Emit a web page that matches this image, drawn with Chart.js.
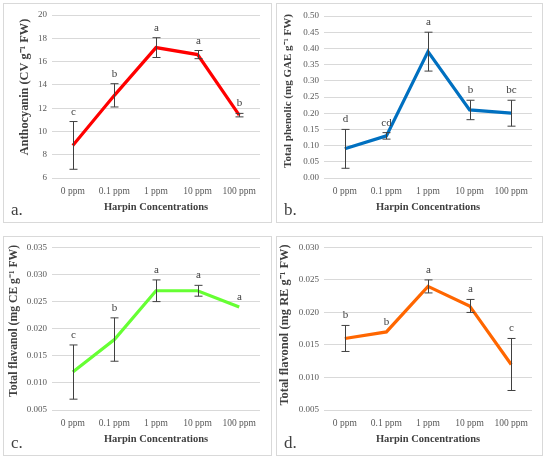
<!DOCTYPE html>
<html><head><meta charset="utf-8">
<script src="https://cdn.jsdelivr.net/npm/chart.js@4"></script>
<style>
body{margin:0;background:#fff;width:550px;height:461px;position:relative;overflow:hidden;font-family:"Liberation Serif",serif}
.panel{position:absolute;box-sizing:border-box;border:1px solid #d9d9d9;background:#fff}
.panel canvas{position:absolute;left:0;top:0}
.tag{position:absolute;left:7px;bottom:4px;font-size:17px;line-height:1;color:#404040;font-family:"Liberation Serif",serif}
</style></head>
<body>
<div class="panel" style="left:3px;top:3px;width:269px;height:220px"><canvas id="ca" width="267" height="218"></canvas><div class="tag">a.</div></div>
<div class="panel" style="left:276px;top:3px;width:267px;height:220px"><canvas id="cb" width="265" height="218"></canvas><div class="tag">b.</div></div>
<div class="panel" style="left:3px;top:236px;width:269px;height:220px"><canvas id="cc" width="267" height="218"></canvas><div class="tag">c.</div></div>
<div class="panel" style="left:276px;top:236px;width:267px;height:220px"><canvas id="cd" width="265" height="218"></canvas><div class="tag">d.</div></div>
<script>
const categories = ['0 ppm', '0.1 ppm', '1 ppm', '10 ppm', '100 ppm'];

const anthocyanin = [8.8, 13.1, 17.2, 16.6, 11.4];
const anthocyaninErr = [2.05, 1.0, 0.85, 0.35, 0.15];
const anthocyaninLetters = ['c', 'b', 'a', 'a', 'b'];
const anthocyaninTicks = [6, 8, 10, 12, 14, 16, 18, 20];

const phenolic = [0.09, 0.13, 0.39, 0.21, 0.20];
const phenolicErr = [0.06, 0.01, 0.06, 0.03, 0.04];
const phenolicLetters = ['d', 'cd', 'a', 'b', 'bc'];
const phenolicTicks = [0, 0.05, 0.10, 0.15, 0.20, 0.25, 0.30, 0.35, 0.40, 0.45, 0.50];

const flavanol = [0.012, 0.018, 0.027, 0.027, 0.024];
const flavanolErr = [0.005, 0.004, 0.002, 0.001, 0];
const flavanolLetters = ['c', 'b', 'a', 'a', 'a'];
const flavanolTicks = [0.005, 0.010, 0.015, 0.020, 0.025, 0.030, 0.035];

const flavonol = [0.016, 0.017, 0.024, 0.021, 0.012];
const flavonolErr = [0.002, 0, 0.001, 0.001, 0.004];
const flavonolLetters = ['b', 'b', 'a', 'a', 'c'];
const flavonolTicks = [0.005, 0.010, 0.015, 0.020, 0.025, 0.030];

Chart.defaults.font.family = "'Liberation Serif', serif";
Chart.defaults.animation = false;

const errorBars = {
  id: 'errorBars',
  afterDatasetsDraw(chart, args, opts) {
    const ctx = chart.ctx, x = chart.scales.x, y = chart.scales.y;
    const data = chart.data.datasets[0].data;
    ctx.save();
    ctx.strokeStyle = '#404040';
    ctx.lineWidth = 1;
    ctx.fillStyle = '#404040';
    ctx.font = "11px 'Liberation Serif', serif";
    ctx.textAlign = 'center';
    ctx.textBaseline = 'alphabetic';
    data.forEach((v, i) => {
      const e = opts.err[i];
      const px = Math.round(x.getPixelForValue(i)) + 0.5;
      const top = y.getPixelForValue(v + e);
      const bot = y.getPixelForValue(v - e);
      if (e > 0) {
        ctx.beginPath();
        ctx.moveTo(px, top); ctx.lineTo(px, bot);
        ctx.moveTo(px - 4, top); ctx.lineTo(px + 4, top);
        ctx.moveTo(px - 4, bot); ctx.lineTo(px + 4, bot);
        ctx.stroke();
      }
      ctx.fillText(opts.letters[i], px, top - 7);
    });
    ctx.restore();
  }
};

const yAxisTitle = {
  id: 'yAxisTitle',
  afterDraw(chart, args, opts) {
    const ctx = chart.ctx;
    ctx.save();
    ctx.translate(opts.cx, opts.cy);
    ctx.rotate(-Math.PI / 2);
    ctx.fillStyle = '#404040';
    ctx.font = "bold " + opts.size + "px 'Liberation Serif', serif";
    ctx.textAlign = 'center';
    ctx.textBaseline = 'middle';
    ctx.fillText(opts.text, 0, 0);
    ctx.restore();
  }
};

function makeChart(id, values, err, letters, ticks, decimals, color, yTitle, L) {
  new Chart(document.getElementById(id), {
    type: 'line',
    data: {
      labels: categories,
      datasets: [{
        data: values,
        borderColor: color,
        borderWidth: 3.2,
        pointRadius: 0,
        tension: 0,
        fill: false
      }]
    },
    options: {
      responsive: false,
      layout: { padding: { left: 0, right: L.right, top: L.top, bottom: 4 } },
      plugins: {
        legend: { display: false },
        tooltip: { enabled: false },
        errorBars: { err: err, letters: letters },
        yAxisTitle: { text: yTitle, size: L.ySize, cx: L.cx, cy: L.cy }
      },
      scales: {
        x: {
          type: 'category',
          offset: true,
          grid: { display: false, drawTicks: false },
          border: { display: false },
          ticks: { color: '#595959', font: { size: 9.5 }, padding: 8, maxRotation: 0, autoSkip: false },
          title: { display: true, text: 'Harpin Concentrations', color: '#404040',
                   font: { size: 10.5, weight: 'bold' }, padding: { top: 0, bottom: L.xTitlePad } },
          afterFit: s => { s.height = L.xHeight; }
        },
        y: {
          min: ticks[0],
          max: ticks[ticks.length - 1],
          grid: { color: '#d9d9d9', lineWidth: 1, drawTicks: false },
          border: { display: false },
          afterBuildTicks: s => { s.ticks = ticks.map(v => ({ value: v })); },
          ticks: { color: '#595959', font: { size: 9 }, padding: 5,
                   callback: v => Number(v).toFixed(decimals) },
          afterFit: s => { s.width = L.yWidth; }
        }
      }
    },
    plugins: [errorBars, yAxisTitle]
  });
}

makeChart('ca', anthocyanin, anthocyaninErr, anthocyaninLetters, anthocyaninTicks, 0, '#FF0000',
  'Anthocyanin (CV g⁻¹ FW)', { right: 11, top: 11, yWidth: 48, xHeight: 40, xTitlePad: 4.7, ySize: 12.3, cx: 21, cy: 83 });
makeChart('cb', phenolic, phenolicErr, phenolicLetters, phenolicTicks, 2, '#0070C0',
  'Total phenolic (mg GAE g⁻¹ FW)', { right: 10, top: 12, yWidth: 47, xHeight: 40, xTitlePad: 4.7, ySize: 11, cx: 11, cy: 87 });
makeChart('cc', flavanol, flavanolErr, flavanolLetters, flavanolTicks, 3, '#66FF33',
  'Total flavanol (mg CE g⁻¹ FW)', { right: 11, top: 10, yWidth: 48, xHeight: 41, xTitlePad: 5.7, ySize: 11.7, cx: 10, cy: 84 });
makeChart('cd', flavonol, flavonolErr, flavonolLetters, flavonolTicks, 3, '#FF6600',
  'Total flavonol (mg RE g⁻¹ FW)', { right: 10, top: 10, yWidth: 47, xHeight: 41, xTitlePad: 5.7, ySize: 12.4, cx: 8, cy: 88 });
</script>
</body></html>
